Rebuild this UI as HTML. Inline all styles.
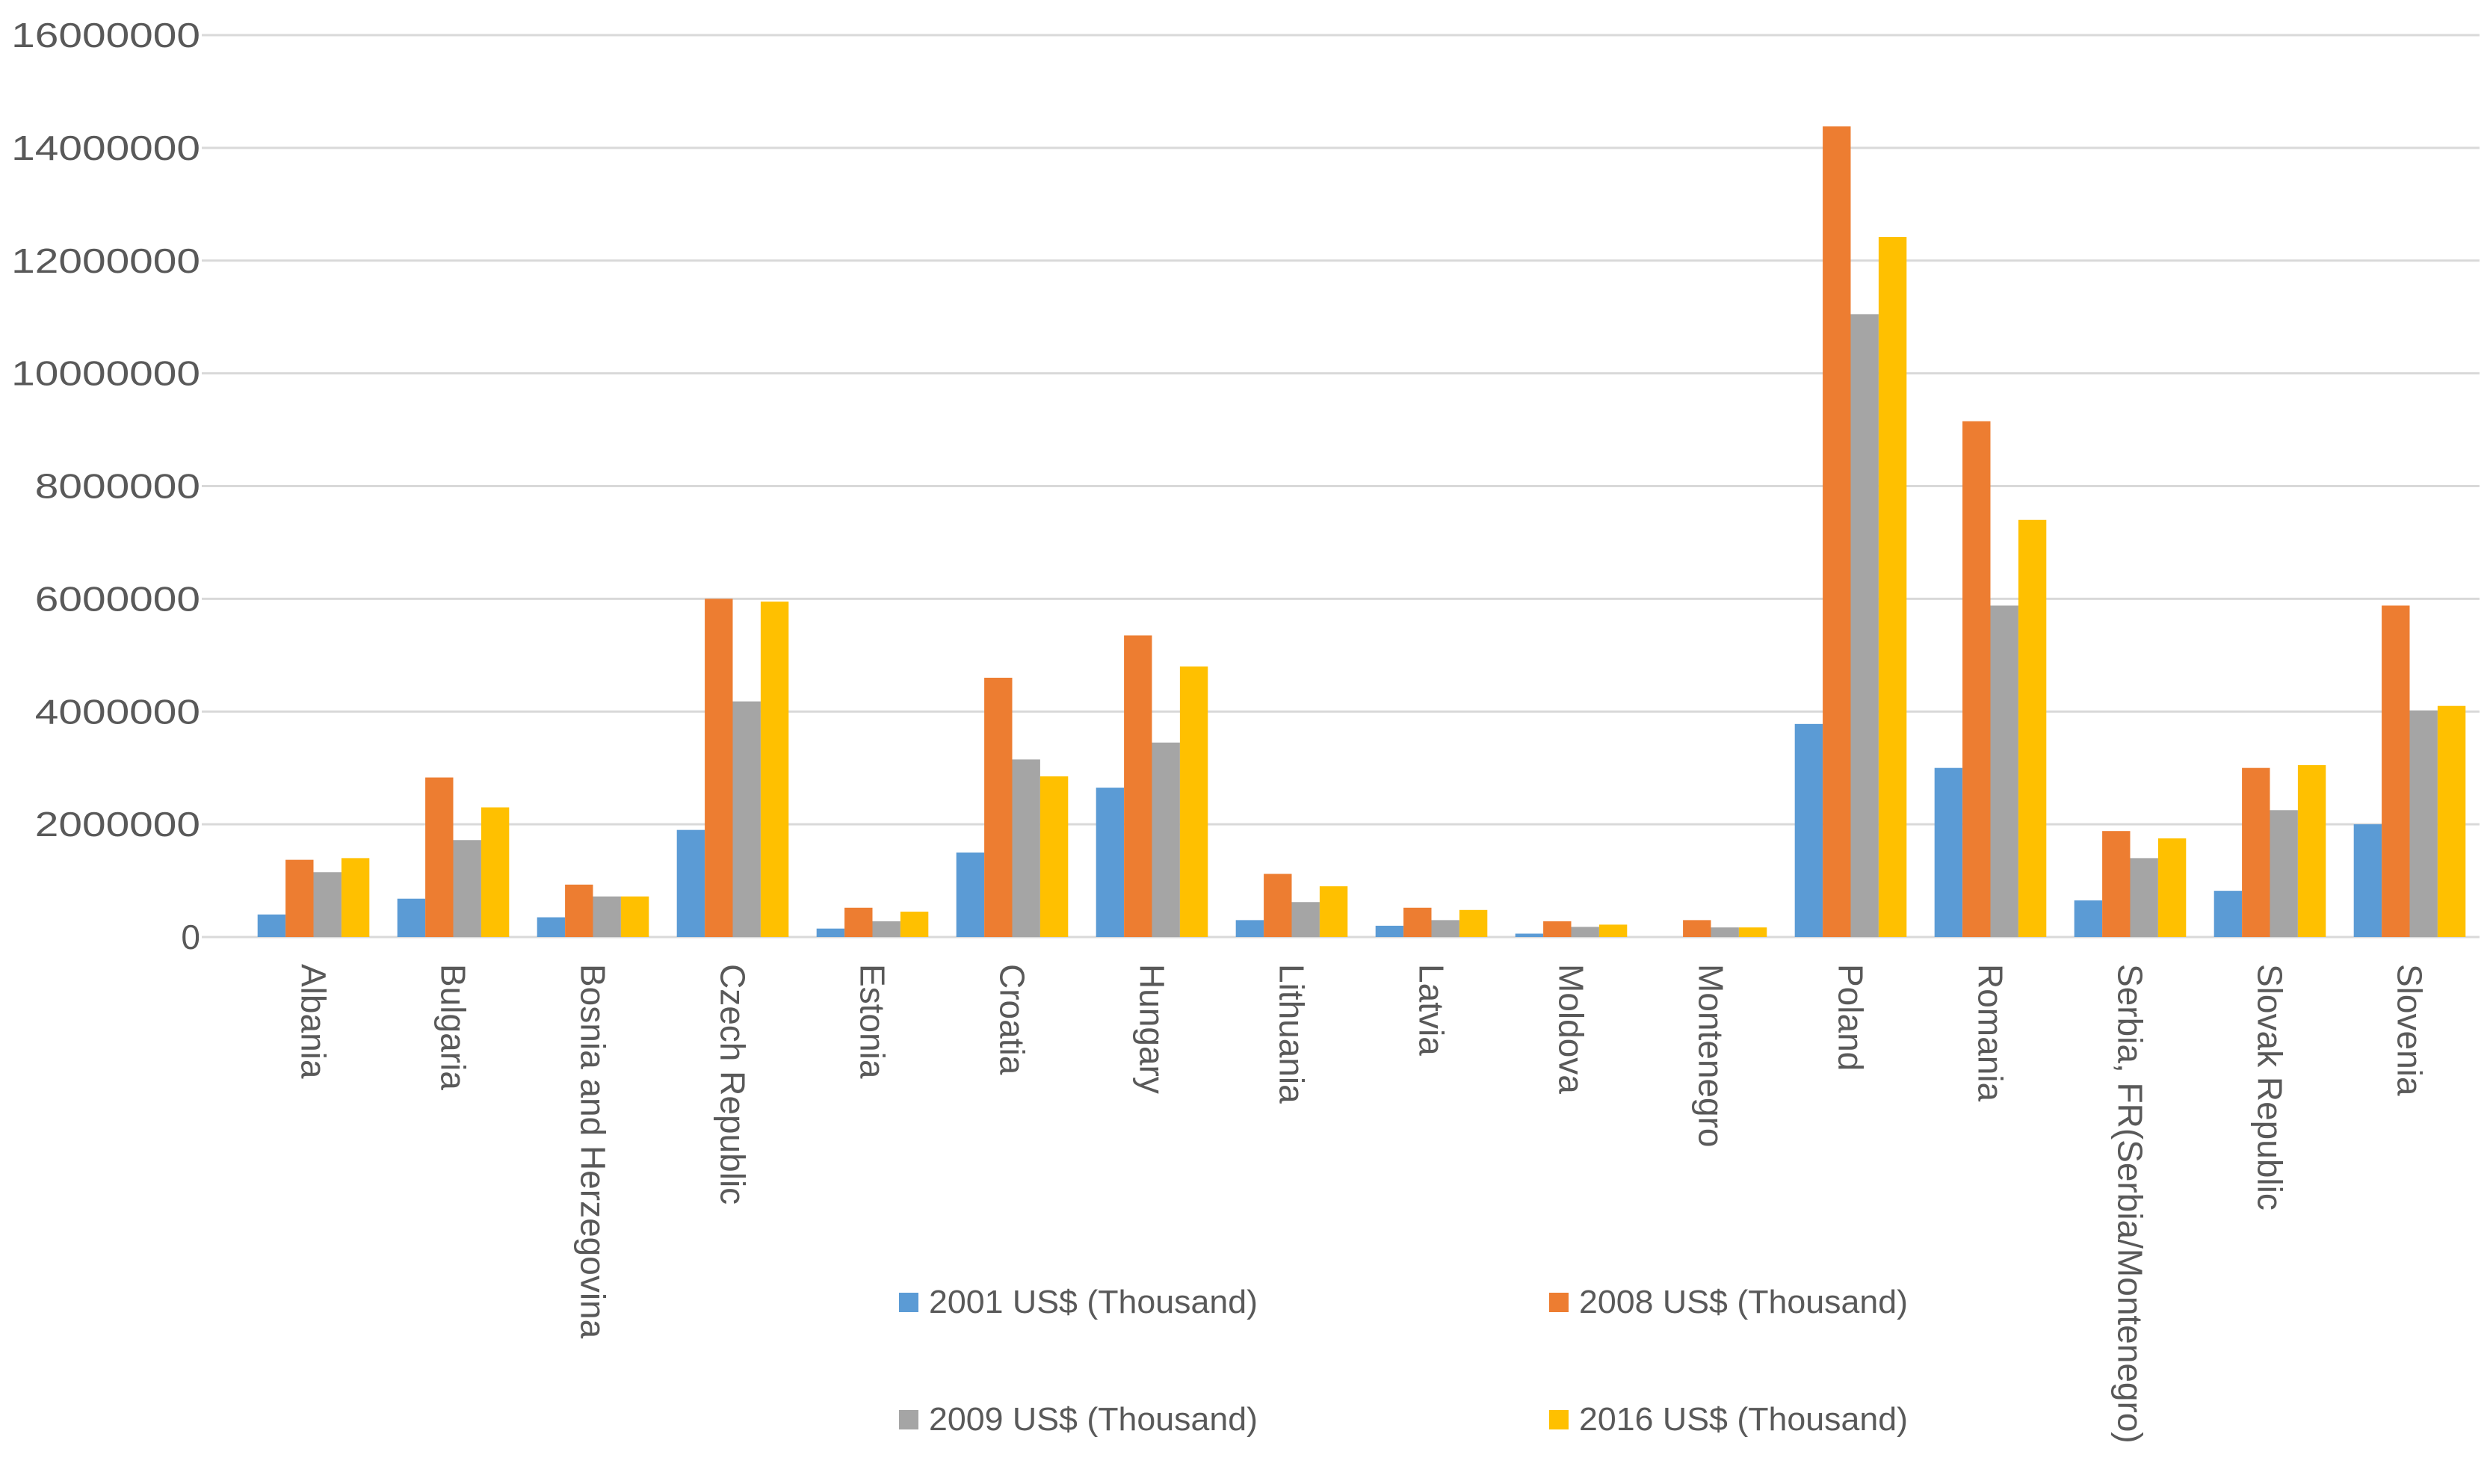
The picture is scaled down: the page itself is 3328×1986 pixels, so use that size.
<!DOCTYPE html>
<html><head><meta charset="utf-8"><style>
html,body{margin:0;padding:0;background:#fff;}
svg{display:block;font-family:"Liberation Sans",sans-serif;}
</style></head><body>
<svg id="chart" width="3328" height="1986" viewBox="0 0 3328 1986" xmlns="http://www.w3.org/2000/svg">
<g id="grid"></g>
<g id="yaxis"></g>
<g id="bars"></g>
<g id="xaxis"></g>
<g id="legend"></g>
</svg>
<script>
const categories = ["Albania","Bulgaria","Bosnia and Herzegovina","Czech Republic","Estonia","Croatia","Hungary","Lithuania","Latvia","Moldova","Montenegro","Poland","Romania","Serbia, FR(Serbia/Montenegro)","Slovak Republic","Slovenia"];
const s2001 = [400000,680000,350000,1900000,150000,1500000,2650000,300000,200000,60000,0,3780000,3000000,650000,820000,2000000];
const s2008 = [1370000,2830000,930000,6000000,520000,4600000,5350000,1120000,520000,280000,300000,14380000,9150000,1880000,3000000,5880000];
const s2009 = [1150000,1720000,720000,4180000,280000,3150000,3450000,620000,300000,180000,170000,11050000,5880000,1400000,2250000,4020000];
const s2016 = [1400000,2300000,720000,5950000,450000,2850000,4800000,900000,480000,220000,170000,12420000,7400000,1750000,3050000,4100000];
const seriesNames = ["2001 US$ (Thousand)","2008 US$ (Thousand)","2009 US$ (Thousand)","2016 US$ (Thousand)"];
const yTicks = [0,2000000,4000000,6000000,8000000,10000000,12000000,14000000,16000000];

const NS="http://www.w3.org/2000/svg";
const colors=["#5B9BD5","#ED7D31","#A5A5A5","#FFC000"];
const series=[s2001,s2008,s2009,s2016];
const plotL=326, plotR=3318, y0=1254, yTop=47, yMax=16000000;
const catW=(plotR-plotL)/categories.length, barW=catW/5;
function y(v){return y0-(v/yMax)*(y0-yTop);}
function xc(i){return plotL+catW*(i+0.5);}
function mk(tag,attrs,parent){const e=document.createElementNS(NS,tag);for(const k in attrs)e.setAttribute(k,attrs[k]);parent.appendChild(e);return e;}
const grid=document.getElementById('grid'), yaxis=document.getElementById('yaxis'), bars=document.getElementById('bars'), xaxis=document.getElementById('xaxis'), legend=document.getElementById('legend');
yTicks.forEach(t=>{
  const l=mk('line',{x1:270,x2:plotR,y1:y(t),y2:y(t),stroke:'#D9D9D9','stroke-width':3},grid);
  
  
  const s=String(t);
  const attrs={x:268,y:y(t)+16,'text-anchor':'end','font-size':46,fill:'#595959'};
  if(s.length>1){attrs.textLength=s.length*31.6;attrs.lengthAdjust='spacingAndGlyphs';}
  const tx=mk('text',attrs,yaxis);
  tx.textContent=s;
  
  
});
categories.forEach((c,i)=>{
  series.forEach((s,k)=>{
    const x=xc(i)-2*barW+k*barW;
    const r=mk('rect',{x:x,y:y(s[i]),width:barW,height:y0-y(s[i]),fill:colors[k]},bars);
    
    
  });
  const tx=mk('text',{x:0,y:0,'font-size':46,fill:'#595959',transform:`translate(${xc(i)-16},1290) rotate(90)`},xaxis);
  tx.textContent=c;
  
  
});
const legPos=[[1203,1730],[2073,1730],[1203,1887],[2073,1887]];
seriesNames.forEach((n,k)=>{
  const g=mk('g',{},legend);
  
  
  mk('rect',{x:legPos[k][0],y:legPos[k][1],width:26,height:26,fill:colors[k]},g);
  const tx=mk('text',{x:legPos[k][0]+40,y:legPos[k][1]+27,'font-size':44,fill:'#595959',textLength:440,lengthAdjust:'spacingAndGlyphs'},g);
  tx.textContent=n;
});
</script>
</body></html>
